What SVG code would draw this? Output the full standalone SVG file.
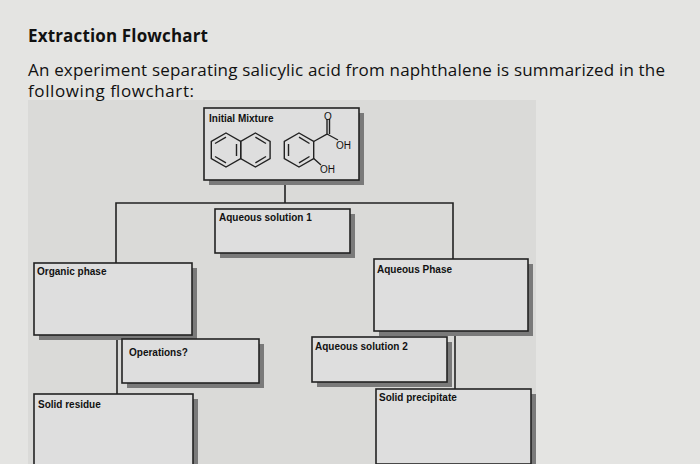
<svg xmlns="http://www.w3.org/2000/svg" width="700" height="464" viewBox="0 0 700 464">
<style>
text{font-family:"Liberation Sans",Arial,sans-serif;fill:#111}
.hd{font-family:"Open Sans","Liberation Sans",sans-serif;font-size:17px}
.lbl{font-size:10px;font-weight:bold}
.box{fill:#dedede;stroke:#222;stroke-width:1.6}
.sh{fill:#7a7a7a}
.con{fill:none;stroke:#222;stroke-width:1.6}
.mol{fill:none;stroke:#222;stroke-width:1.4}
</style>
<rect width="700" height="464" fill="#e4e4e2"/>
<rect x="28" y="100" width="508" height="364" fill="#dadad8"/>
<text class="hd" x="28" y="42" font-weight="bold" textLength="180">Extraction Flowchart</text>
<text class="hd" x="28" y="76" textLength="637">An experiment separating salicylic acid from naphthalene is summarized in the</text>
<text class="hd" x="28" y="97" textLength="166">following flowchart:</text>
<g id="connectors">
<path class="con" d="M285 180V203M116 263V203H453V259"/>
<path class="con" d="M117 335V394"/>
<path class="con" d="M455 331V389"/>
</g>
<g id="initial">
<rect class="sh" x="209" y="113" width="155" height="72"/>
<rect class="box" x="204" y="108" width="155" height="72"/>
<text class="lbl" x="209" y="122">Initial Mixture</text>
<g class="mol">
<polygon points="226,133 240.7,141.5 240.7,158.5 226,167 211.3,158.5 211.3,141.5"/>
<polygon points="255.4,133 270.1,141.5 270.1,158.5 255.4,167 240.7,158.5 240.7,141.5"/>
<path d="M215,143.5 226,137.2 M215,156.5 226,162.8 M236.5,144 V156 M255.4,137.2 266,143.5 M255.4,162.8 266,156.5"/>
<polygon points="299,133 313.7,141.5 313.7,158.5 299,167 284.3,158.5 284.3,141.5"/>
<path d="M288.5,144 V156 M299,137.2 309.5,143.5 M299,162.8 309.5,156.5"/>
<path d="M313.7,141.5 327,134 V119 M329.5,134 V119 M327,134 338,140 M313.7,158.5 321,165"/>
</g>
<text x="324" y="120" font-size="10">O</text>
<text x="336" y="149" font-size="10">OH</text>
<text x="320" y="173" font-size="10">OH</text>
</g>
<g id="aq1">
<rect class="sh" x="220" y="214" width="135" height="44"/>
<rect class="box" x="215" y="209" width="135" height="44"/>
<text class="lbl" x="219" y="221">Aqueous solution 1</text>
</g>
<g id="organic">
<rect class="sh" x="39" y="268" width="158" height="72"/>
<rect class="box" x="34" y="263" width="158" height="72"/>
<text class="lbl" x="37" y="275">Organic phase</text>
</g>
<g id="aqphase">
<rect class="sh" x="379" y="264" width="154" height="72"/>
<rect class="box" x="374" y="259" width="154" height="72"/>
<text class="lbl" x="377" y="273">Aqueous Phase</text>
</g>
<g id="operations">
<rect class="sh" x="127" y="344" width="137" height="44"/>
<rect class="box" x="122" y="339" width="137" height="44"/>
<text class="lbl" x="129" y="356">Operations?</text>
</g>
<g id="aq2">
<rect class="sh" x="317" y="342" width="135" height="45"/>
<rect class="box" x="312" y="337" width="135" height="45"/>
<text class="lbl" x="315" y="350">Aqueous solution 2</text>
</g>
<g id="residue">
<rect class="sh" x="39" y="399" width="159" height="70"/>
<rect class="box" x="34" y="394" width="159" height="75"/>
<text class="lbl" x="38" y="408">Solid residue</text>
</g>
<g id="precipitate">
<rect class="sh" x="381" y="394" width="155" height="75"/>
<rect class="box" x="376" y="389" width="155" height="75"/>
<text class="lbl" x="379" y="401">Solid precipitate</text>
</g>
</svg>
